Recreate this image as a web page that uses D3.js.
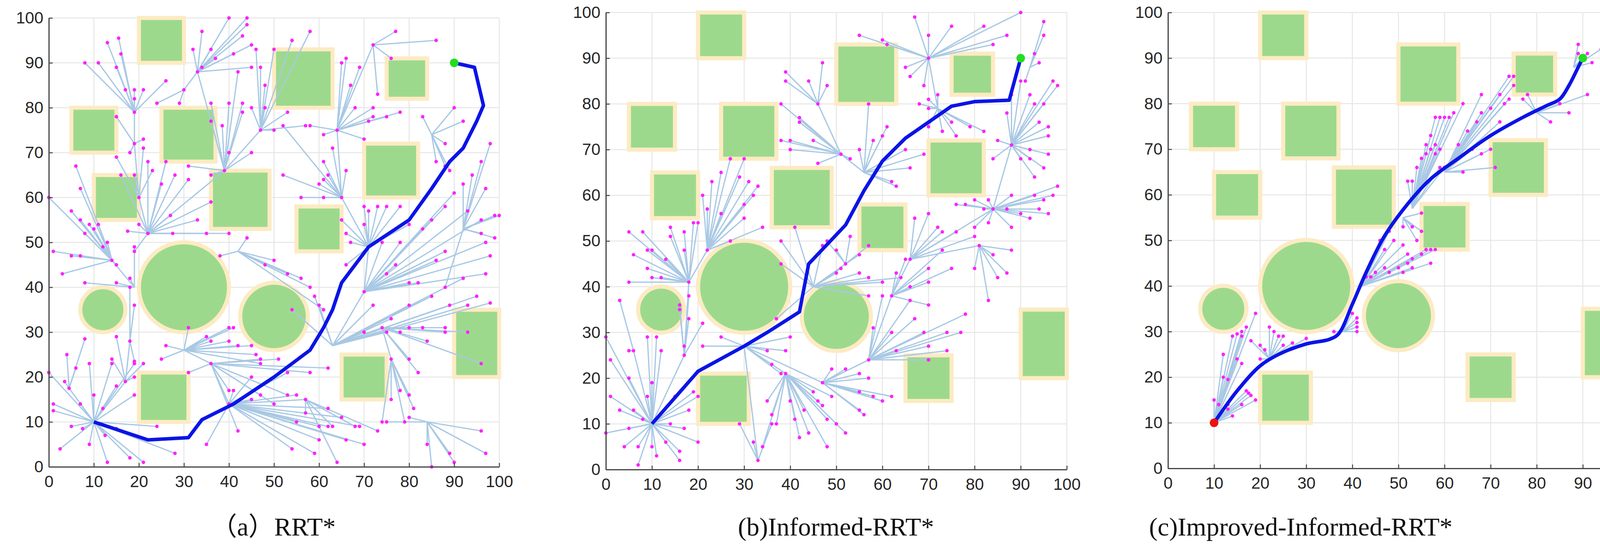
<!DOCTYPE html>
<html><head><meta charset="utf-8">
<script src="https://cdn.jsdelivr.net/npm/d3@7/dist/d3.min.js"></script>
<style>html,body{margin:0;padding:0;background:#fff;overflow:hidden}svg{display:block}</style></head>
<body><svg id="c" width="4217" height="1404"></svg>
<script>
const ticks=[0,10,20,30,40,50,60,70,80,90,100];
const captions=["（a）RRT*","(b)Informed-RRT*","(c)Improved-Informed-RRT*"];
const rects=[[20,90,10,10],[50,80,13,13],[75,82,9,9],[5,70,10,10],[25,68,12,12],[10,55,10,10],[36,53,13,13],[70,60,12,12],[55,48,10,10],[90,20,10,15],[65,15,10,10],[20,10,11,11]];
const circles=[[12,35,5],[30,40,10],[50,33.5,7.5]];
const start=[10,10], goal=[90,90];
const path1=[[10,10],[22,6],[31,6.5],[34,10.5],[41,14],[50,20],[58,26],[61,31],[63,35],[65,41],[71,49],[80,55],[85,62],[89,68],[92,71],[95,77],[96.5,80.5],[94.5,89],[90,90]];
const path2=[[10,10],[20,21.5],[30,27],[35,30],[42,34.5],[44,45],[52,53.5],[56,61],[60,67.5],[65,72.5],[70,76],[75,79.5],[80,80.5],[87.5,80.8],[90,90]];
const path3=[[10,10],[15,17],[20,22.5],[24,25],[30,27.3],[35,28.3],[37,29.5],[40,36],[43,43],[47,51],[52,58],[57,63.5],[63,68],[70,73],[77,77],[82,79.5],[85,81],[87,84],[89,88],[90,90]];
const tree1=[
[10,10,[0,21,1,14,1,12.5,2.5,4,5,9,7,14,7.5,8.5,9,5,9,23,10,16,12,13,12.5,7,13,1,15,8.5,18,2,21,1,28,3,15,18,14,23,19,16,24,9,19,23,4.5,17.5,17,19]],
[4.5,17.5,[4,25,3.5,19,6,22,8,28.5]],
[17,19,[15,29,14,24,21,23,18,28,19,20]],
[18,28,[19,36,18,40,19,23.5]],
[19,40,[14,46,19,48,8,41,15,41,18,42]],
[19,48,[22,52,19,49]],
[14,46,[0,60,5,57,7,55,8,52,9,54,10,53,11,54,1,48,5,47,7,47,3,43,12,49,13,50,15,45,6,67,7,62]],
[22,52,[20,60,16,65,22,68,26,68,25,63,27,56,28,65,31,64,36,59,35,52,40,52,27.5,52,17.5,52.5,20,54,39,66,33,55]],
[20,60,[19,72,15,69,21,71,19,65,23,66]],
[19,72,[19,79,15,78,21,73,18,70]],
[19,79,[13,94.5,15.5,95.5,16,92,19,84,21,84,26,86,17,84,8,90,19,82,15,89,11,90]],
[33,88,[34,97,36,93,37,91,40,100,41,92,43,96,44,98.5,44,100,45,94,45,89,32,93,34,89,30,84]],
[30,84,[24,81,29,81]],
[39,66,[36,77,36,81,38.5,76,40,81,43,81,42,88,43,79,40,70,45,70,31,67,36,65,33,88,47,75]],
[47,75,[48,80,48,85,47,89,46,93,50,93,54,95,58,97,53,79,57,76,50,75,45,80]],
[64,75,[65,90,67,85,66,91,69,89,68,80,71,77,72,78,75,78,78,79,70,73,72,80,58,76,61,74,72,94]],
[72,94,[77,97,86,95,76,91,73,83]],
[65,60,[56,60,61,60,52,65,60,63,61,64,63,71,52,76,61,68,64,75,62,65,66,66]],
[71,49,[70,58,73,58,75,58,78,58,65,55,66,45,67,50,70,54,71,57,80,54,65,60,66,52]],
[70,39,[74,50,75,43,77,45,78,50,80,41,82,41,86,46,88,48,83,53,85,55,88,58,90,61,93,57,96,55,97,50,98,47,97,43,71,49]],
[92,53,[96,52,99,51,99,56,97,62,92,63,94,65,96,68,98,72,88,40,100,56]],
[85,74,[83,78,88,72,88,67,89,66,86,68,92,77,90,80]],
[63,27,[54,35,70,30,75,30,72,36,76,33,80,36,85,38,92,42,95,38,98,36.5,89,36,93,36,70,39,74,31,59,38,60,36]],
[74,31,[80,31,78,30,83,31,88,31,84,28,80,24,82,21,88,30,93,30,96,23,76,24]],
[76,24,[76,15,78,17,80,16,81,13,79,10,74,10]],
[30,26,[40,28,45,27,46,25,47,23,26,27,36,28,42,27,25,24,36,23,31,31,40,31,41,31,35,29]],
[36,23,[40,17,42,8,50,14,53,16,47,16,47,24,51,24,58,21,62,22,31,21,40,14]],
[40,14,[41,17,45,15,45,20,53,21,55,16,57,15,60,9,60,6,62,9,62,13,65,11,69,9,70,5,66,6,55,10,54,4,59,3,35,5]],
[57,15,[57,12,63,9,68,9,73,8,64,1]],
[84,10,[75,10,84,5,89,3,90,1,96,8,97,3,85,0,80,11]],
[42,48,[38,47,44,51,48,45,50,46,56,42,53,43,58,40,61,35]]
];
const tree2=[
[10,10,[0,8,0,29,1,24,1,16,3,13,4,5,5,20,5,9,6,13,7,5,7,1,8,11,9,16,9,29,10,5,10,19,11,29,11,3,12,26,13,6,14,10,15,16,16,2,16,4,17,9,20,6,20,16,18,13,19,17,6,26,17,25]],
[6,26,[3,37,5,26]],
[17,25,[18,33,16,35,18,38,16,36,21,32,17,27,18,41]],
[18,41,[5,52,6,47,8,52,9,48,10,48,5,41,9,44,14,53,14,51,13,46,12,42,17,52,17,48,20,54,19,54,10,42,22,48]],
[22,48,[21,60,22,57,25,65,27,50,34,53,31,63,32,60,33,62,30,55,27,68,30,68,29,64,30,58,25,56,23,63]],
[30,27,[35,26,36,23,38,21,39,26,33,2,21,27,25,29,40,29,39,21,47,19]],
[33,2,[36,10,29,10,32,6]],
[39,21,[40,15,41,11,43,13,44,8,45,17,47,14,48,11,35,15,36,12,34,5,37,10,42,7,46,15,48,5,49,16,50,10,52,8]],
[47,19,[55,13,55,17,56,12,57,20,58,16,60,15,62,16,49,22,52,22,55,21,57,24]],
[45,40,[38,45,38,50,41,53,47,49,50,43,51,44,55,43,57,42,60,41,64,42,57,38,52,45,37,33]],
[52,45,[57,49,55,47,50,48,48,50,53,51]],
[57,24,[58,31,60,38,62,30,66,37,67,33,69,30,70,24,70,27,74,30,77,30,74,26,78,34,63,26,62,38]],
[62,38,[63,43,65,46,66,40,70,41,70,44,73,48,75,44,70,36,66,46]],
[66,46,[67,55,70,56,72,53,76,52,73,52,80,51,81,49,84,57]],
[81,49,[84,47,88,48,85,42,87,43,83,37,80,44]],
[84,57,[76,58,78,58,80,59,82,57,83,59,87,57,88,60,90,56,93,60,95,59,97,60,98,62,94,57,92,55,96,56,80,53,83,54,88,53,88,71]],
[88,71,[87,78,88,82,90,85,92,82,93,80,95,80,94,76,96,73,96,69,92,68,93,64,95,66,90,68,97,85,98,84,96,75,92,70,85,72,84,68]],
[72,79,[68,80,70,81,70,75,73,74,75,76,79,75,82,74,76,73,72,82,70,79,70,90]],
[70,90,[67,99,70,95,75,97,82,97,87,95,90,100,84,93,61,93,55,95,60,94,66,86,65,88,69,84]],
[92,88,[95,98,95,95,93,91,94,89,91,85]],
[51,69,[38,80,42,77,42,76,38,72,40,72,40,70,45,72,46,67,53,68,46,80]],
[46,80,[39,87,39,85,44,85,47,89,48,84]],
[56,65,[55,70,58,72,61,75,60,73,63,62,62,63,66,66,69,69,65,70,57,80,51,69]]
];
const tree3=[
[10,10,[10,15,11,14,13,14,13,13,14,11.5,16,14,17,17,18,16,19,15,12,25,12,20,13,19.5,15,24,16,23,14,29,16,30,17,31,19,34,16,29,15,29.5,17.5,16.5]],
[22,24,[22,31,23,30,20,27,21,26,24,29,25,29,27,27.5,30,28.5,20,24,25,27,18,28]],
[38,30,[41,32,41,33,41,30,41,31,36,30,40,34]],
[42,40,[43,42,44,42,45,43,47,44,48,43,50,44,51,43,52,45,53,46,55,47,56,48,57,48,58,48,57,45,53,44,52,47,51,49,49,50,48,52,46,50,47,48]],
[51,55,[55,56,55,52,53,53,51,53,54,50]],
[53,57,[52,63,53,63,54,66,55,68,56,69,57,73,58,77,59,77,60,77,61,77,62,78,64,80,56,71,57,70,58,69,60,66,59,66,58,71,59,70]],
[60,65,[63,71,65,74,67,76,68,78,70,79,68,82,72,82,73,80,74,81,75,84,75,86,74,86,72,76,70,70,71,66,68,69,66,70,64,65]],
[80,78,[78,82,77,81,83,76,85,80,87,78,91,82]],
[88,88,[89,93,89,91,91,91,94,92,92,89]]
];
const panels=[
 {x0:125,x1:1278,y0:1196,y1:46,tree:tree1,path:path1,cx:700,red:false},
 {x0:1551,x1:2731,y0:1203,y1:32,tree:tree2,path:path2,cx:2140,red:false},
 {x0:2990,x1:4170,y0:1200,y1:32,tree:tree3,path:path3,cx:3330,red:true}
];
const svg=d3.select("#c");
panels.forEach((P,i)=>{
 const x=d3.scaleLinear().domain([0,100]).range([P.x0,P.x1]);
 const y=d3.scaleLinear().domain([0,100]).range([P.y0,P.y1]);
 const g=svg.append("g");
 const u=x(1)-x(0);
 g.append("g").selectAll("line.gx").data(ticks.slice(1)).join("line")
  .attr("x1",d=>x(d)).attr("x2",d=>x(d)).attr("y1",y(0)).attr("y2",y(100)).attr("stroke","#e6e6e6").attr("stroke-width",2.5);
 g.append("g").selectAll("line.gy").data(ticks.slice(1)).join("line")
  .attr("y1",d=>y(d)).attr("y2",d=>y(d)).attr("x1",x(0)).attr("x2",x(100)).attr("stroke","#e6e6e6").attr("stroke-width",2.5);
 const ob=g.append("g");
 ob.selectAll("rect").data(rects).join("rect")
  .attr("x",d=>x(d[0])).attr("y",d=>y(d[1]+d[3])).attr("width",d=>x(d[0]+d[2])-x(d[0])).attr("height",d=>y(d[1])-y(d[1]+d[3]))
  .attr("fill","#9dd98c").attr("stroke","#fcebc3").attr("stroke-width",0.9*u);
 ob.selectAll("circle").data(circles).join("circle")
  .attr("cx",d=>x(d[0])).attr("cy",d=>y(d[1])).attr("r",d=>x(d[2])-x(0))
  .attr("fill","#9dd98c").attr("stroke","#fcebc3").attr("stroke-width",0.9*u);
 const edges=[];
 P.tree.forEach(h=>{for(let k=0;k<h[2].length;k+=2)edges.push([h[0],h[1],h[2][k],h[2][k+1]]);});
 g.append("g").selectAll("line").data(edges).join("line")
  .attr("x1",d=>x(d[0])).attr("y1",d=>y(d[1])).attr("x2",d=>x(d[2])).attr("y2",d=>y(d[3]))
  .attr("stroke","#a8c8e4").attr("stroke-width",3.2);
 g.append("g").selectAll("circle").data(edges).join("circle")
  .attr("cx",d=>x(d[2])).attr("cy",d=>y(d[3])).attr("r",4.5).attr("fill","#ff22ff");
 const ln=d3.line().x(d=>x(d[0])).y(d=>y(d[1]));
 if(i==2) ln.curve(d3.curveCatmullRom);
 g.append("path").attr("d",ln(P.path)).attr("fill","none").attr("stroke","#0a14e6").attr("stroke-width",9).attr("stroke-linejoin","round");
 g.append("circle").attr("cx",x(goal[0])).attr("cy",y(goal[1])).attr("r",11).attr("fill","#22dd22");
 if(P.red) g.append("circle").attr("cx",x(start[0])).attr("cy",y(start[1])).attr("r",11).attr("fill","#ee1111");
 const ax=g.append("g").attr("transform",`translate(0,${y(0)})`).call(d3.axisBottom(x).tickValues(ticks).tickSize(-10).tickPadding(22).tickSizeOuter(0));
 const ay=g.append("g").attr("transform",`translate(${x(0)},0)`).call(d3.axisLeft(y).tickValues(ticks).tickSize(-10).tickPadding(14).tickSizeOuter(0));
 [ax,ay].forEach(a=>{a.select(".domain").attr("stroke","#444").attr("stroke-width",3);
  a.selectAll(".tick line").attr("stroke","#444").attr("stroke-width",2.5);
  a.selectAll("text").attr("font-family","'Liberation Sans', Arial, sans-serif").attr("font-size",42).attr("fill","#262626");});
 g.append("text").attr("x",P.cx).attr("y",1372).attr("text-anchor","middle")
  .attr("font-family","'Liberation Serif', 'Times New Roman', 'Noto Sans CJK SC', serif").attr("font-size",66).attr("fill","#111").text(captions[i]);
});
</script></body></html>
